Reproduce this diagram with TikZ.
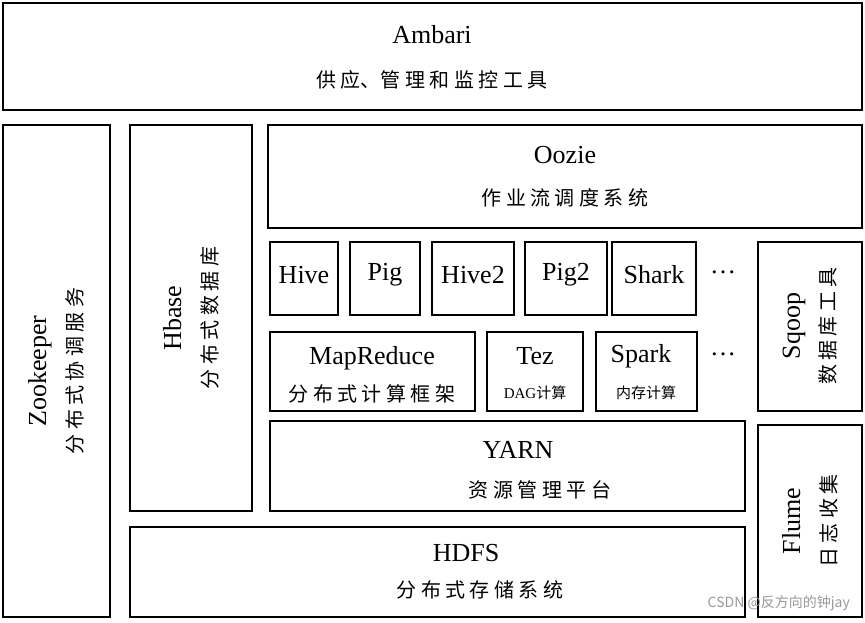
\documentclass[tikz,border=0pt]{standalone}
\usepackage{fontspec}
\setmainfont{Liberation Serif}
\newfontfamily\cjk{Noto Sans CJK SC}
\begin{document}
\begin{tikzpicture}[x=1pt,y=-1pt,
  bx/.style={draw,line width=1.3pt,fill=white},
  t/.style={font=\fontsize{26}{28}\selectfont,inner sep=0},
  c/.style={font=\cjk\fontsize{20}{22}\selectfont,inner sep=0},
  cs/.style={font=\cjk\fontsize{15}{16}\selectfont,inner sep=0},
  vt/.style={rotate=90,align=center,inner sep=0,font=\fontsize{26}{36}\selectfont}]
\useasboundingbox[fill=white] (0,0) rectangle (865,622);
\draw[bx] (3,3) rectangle (862,110);
\node[t] (amb) at (432,35) {Ambari};
\node[c] (ambc) at (432,80) {供 应、管 理 和 监 控 工 具};
\draw[bx] (3,125) rectangle (110,617);
\node[vt] (zk) at (56,371) {Zookeeper\\{\cjk\fontsize{20}{22}\selectfont 分 布 式 协 调 服 务}};
\draw[bx] (130,125) rectangle (252,511);
\node[vt] (hb) at (191,318) {Hbase\\{\cjk\fontsize{20}{22}\selectfont 分 布 式 数 据 库}};
\draw[bx] (268,125) rectangle (862,228);
\node[t] (oz) at (565,155) {Oozie};
\node[c] (ozc) at (565,198) {作 业 流 调 度 系 统};
\foreach \a/\b/\n/\l in {270/338/hv/Hive,350/420/pg/Pig,432/514/hv2/Hive2,525/607/pg2/Pig2,612/696/sh/Shark}{
  \draw[bx] (\a,242) rectangle (\b,315);
  \node[t] (\n) at ({(\a+\b)/2},275) {\l};}
\node[t] (d1) at (723,272) {\ldots};
\draw[bx] (758,242) rectangle (862,411);
\node[vt] (sq) at (810,326) {Sqoop\\{\cjk\fontsize{20}{22}\selectfont 数 据 库 工 具}};
\draw[bx] (270,332) rectangle (475,411);
\node[t] (mr) at (372,358) {MapReduce};
\node[c] (mrc) at (372,394) {分 布 式 计 算 框 架};
\draw[bx] (487,332) rectangle (583,411);
\node[t] (tz) at (535,356) {Tez};
\node[font=\fontsize{15}{16}\selectfont,inner sep=0] (tzc) at (535,393) {DAG{\cjk 计算}};
\draw[bx] (596,332) rectangle (697,411);
\node[t] (sp) at (641,356) {Spark};
\node[cs] (spc) at (646,393) {内存计算};
\node[t] (d2) at (723,354) {\ldots};
\draw[bx] (270,421) rectangle (745,511);
\node[t] (yn) at (518,450) {YARN};
\node[c] (ync) at (540,490) {资 源 管 理 平 台};
\draw[bx] (758,425) rectangle (862,617);
\node[vt] (fl) at (810,521) {Flume\\{\cjk\fontsize{20}{22}\selectfont 日 志 收 集}};
\draw[bx] (130,527) rectangle (745,617);
\node[t] (hd) at (466,553) {HDFS};
\node[c] (hdc) at (480,590) {分 布 式 存 储 系 统};
\node[font=\cjk\fontsize{14}{15}\selectfont,text=gray!80,inner sep=0,anchor=east] (wm) at (850,603) {CSDN @反方向的钟jay};
\end{tikzpicture}
\end{document}
